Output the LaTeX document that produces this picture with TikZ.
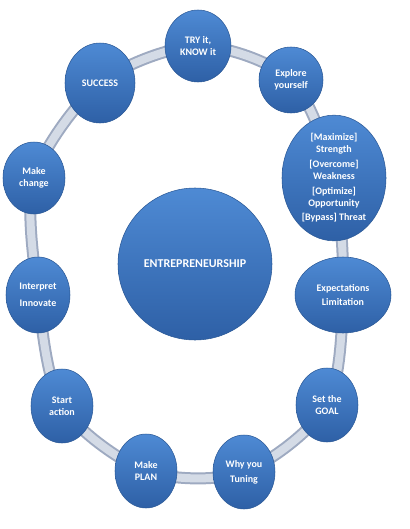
\documentclass[tikz,border=0pt]{standalone}
\usepackage{fontspec}
\setmainfont{Carlito}
\usetikzlibrary{shapes.geometric,backgrounds}

\begin{document}
\begin{tikzpicture}[x=0.75pt,y=-0.75pt,
		ball/.style={ellipse,inner sep=0pt,align=center,text=white,
			font=\bfseries\fontsize{7.5}{9}\selectfont,
			draw={rgb,255:red,42;green,88;blue,150},line width=0.4pt,
			top color={rgb,255:red,78;green,138;blue,212},
			bottom color={rgb,255:red,46;green,96;blue,166}},
		small/.style={ball,minimum width=46.5pt,minimum height=55.5pt},
		ringedge/.style={line width=9pt,color={rgb,255:red,158;green,170;blue,193}},
		ringfill/.style={line width=6pt,color={rgb,255:red,212;green,219;blue,230}}]
		\useasboundingbox (0,0) rectangle (410,529);
		\node[ball,minimum width=115.5pt,minimum height=114pt,font=\bfseries\fontsize{9}{11}\selectfont] (entr) at (195,264) {ENTREPRENEURSHIP};
		\node[ball,minimum width=49.5pt,minimum height=54pt] (try) at (198,46) {TRY it,\\KNOW it};
		\node[ball,minimum width=48pt,minimum height=49.5pt] (explore) at (291,80) {Explore\\yourself};
		\node[ball,minimum width=78pt,minimum height=82.5pt] (swot) at (334,178) {[Maximize]\\Strength\\[2pt][Overcome]\\Weakness\\[2pt][Optimize]\\Opportunity\\[2pt][Bypass] Threat};
		\node[ball,minimum width=72pt,minimum height=57pt] (expect) at (343,295) {Expectations\\[2pt]Limitation};
		\node[small] (goal) at (327,405) {Set the\\GOAL};
		\node[small] (why) at (244,472) {Why you\\[2pt]Tuning};
		\node[small] (plan) at (146,471) {Make\\PLAN};
		\node[small] (start) at (62,406) {Start\\action};
		\node[ball,minimum width=48pt,minimum height=57pt] (interp) at (38,295) {Interpret\\[4pt]Innovate};
		\node[small,minimum height=54pt] (change) at (34,178) {Make\\change};
		\node[ball,minimum width=52.5pt,minimum height=60pt] (success) at (100,83) {SUCCESS};
		\begin{pgfonlayer}{background}
			\draw[ringedge] plot[smooth cycle] coordinates {(try.center) (explore.center) (swot.center) (expect.center) (goal.center) (why.center) (plan.center) (start.center) (interp.center) (change.center) (success.center)};
			\draw[ringfill] plot[smooth cycle] coordinates {(try.center) (explore.center) (swot.center) (expect.center) (goal.center) (why.center) (plan.center) (start.center) (interp.center) (change.center) (success.center)};
		\end{pgfonlayer}
	\end{tikzpicture}
\end{document}
